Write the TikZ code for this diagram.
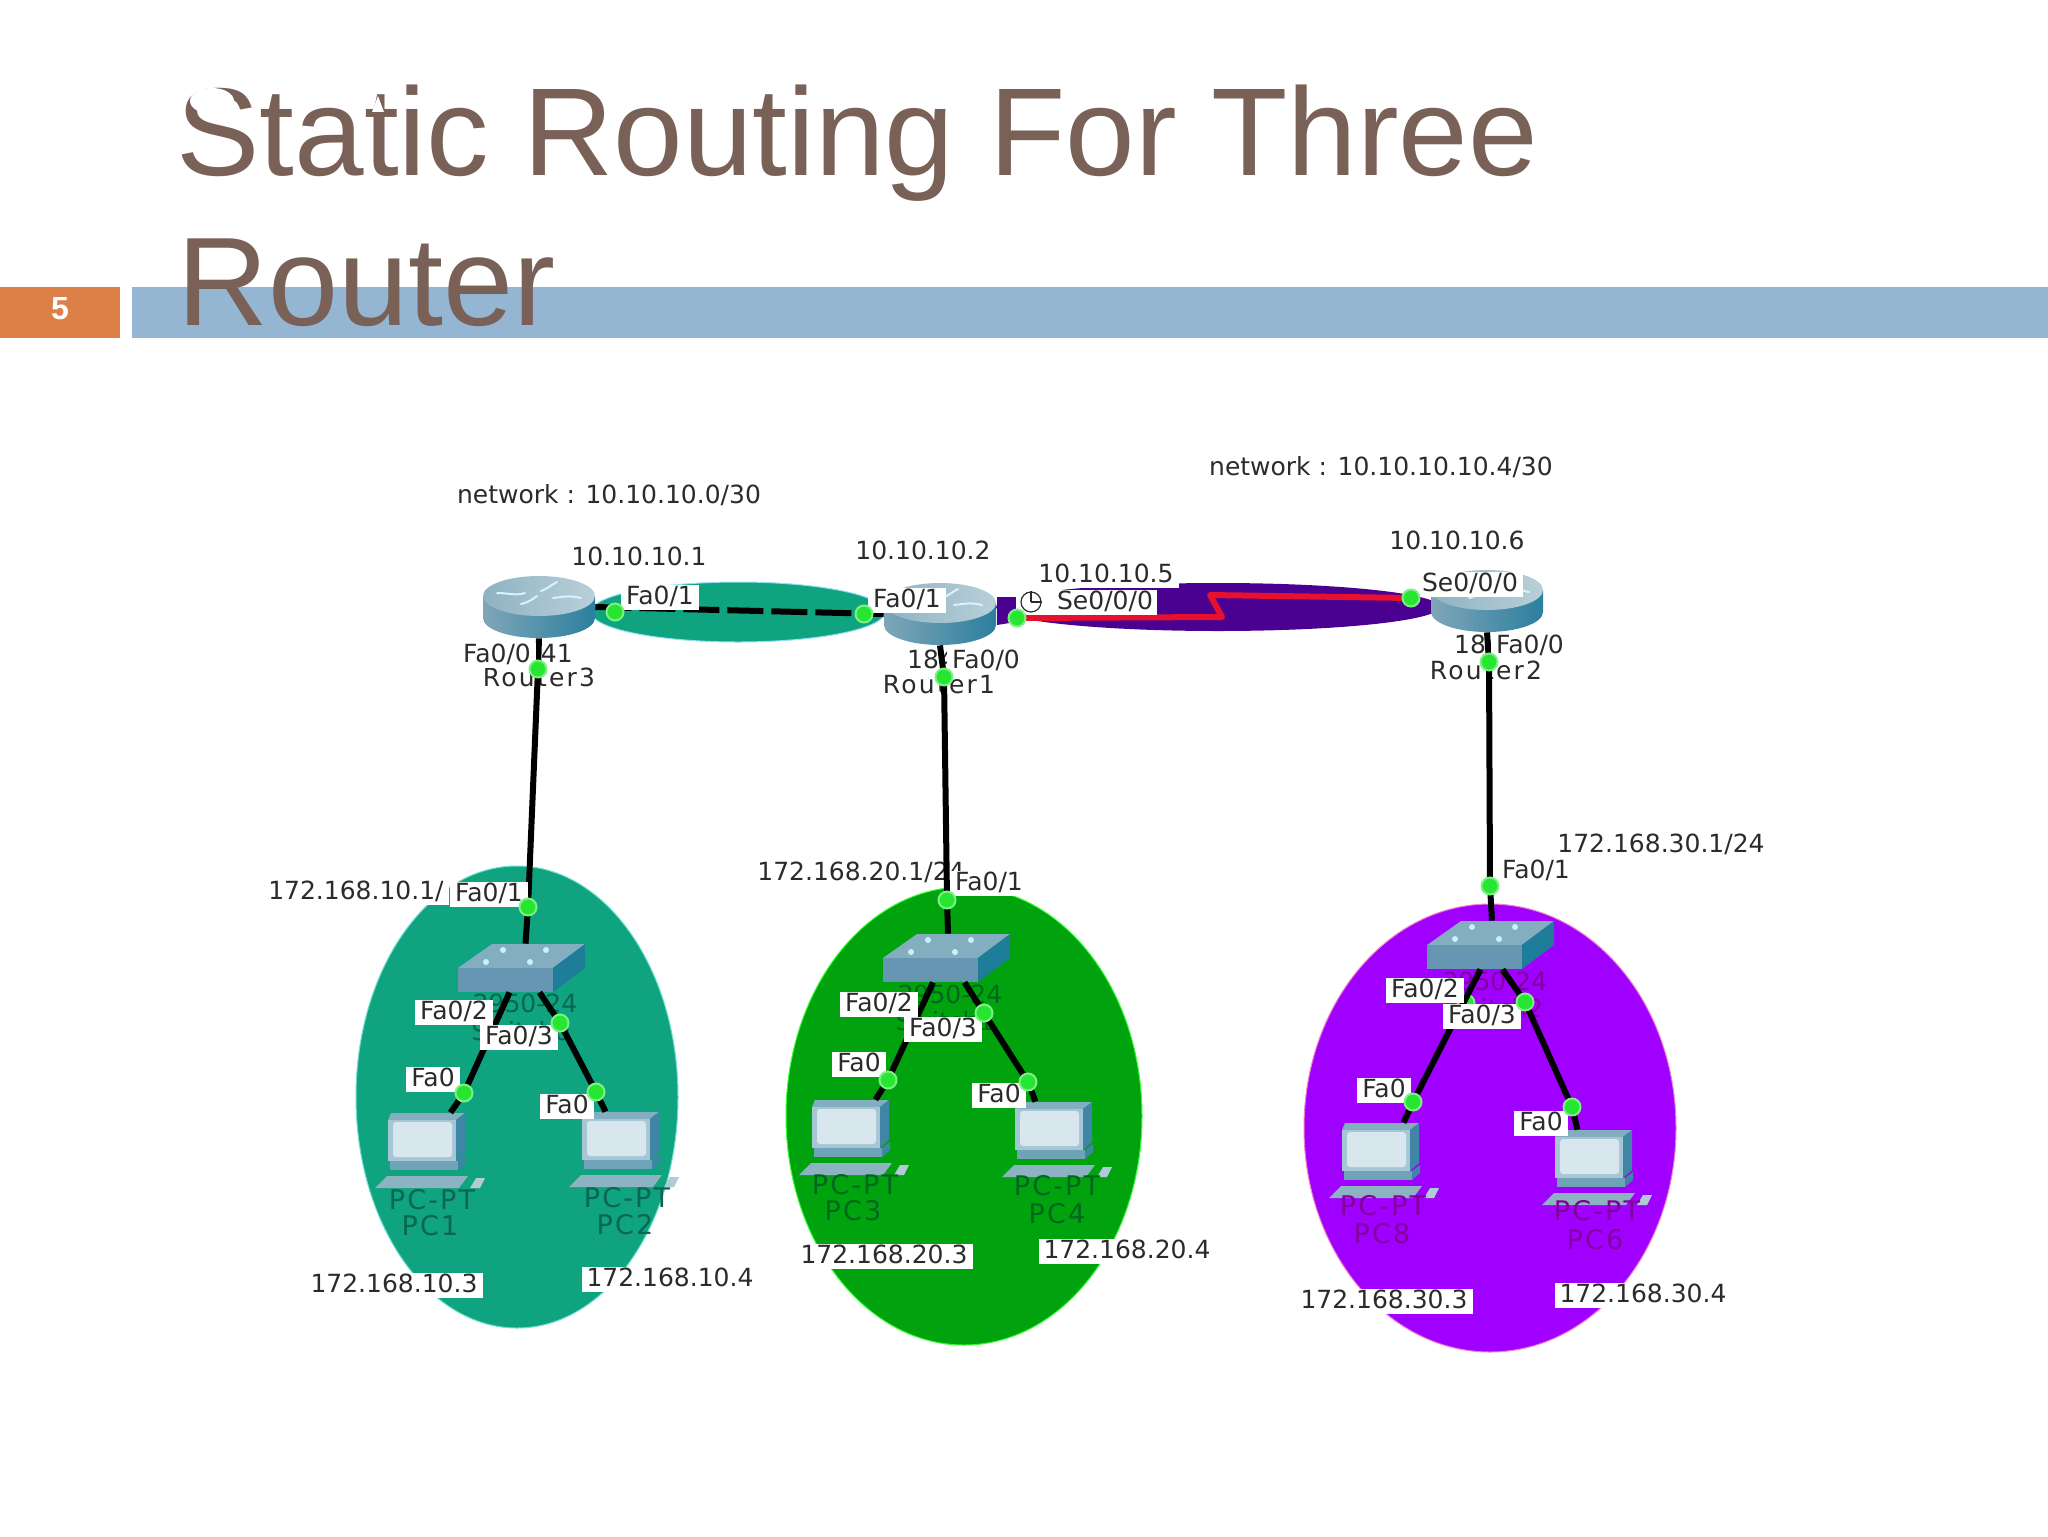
\documentclass[tikz,border=0pt]{standalone}
\usepackage{fontspec}
\setmainfont{DejaVu Sans}
\newfontfamily\titlefont{Liberation Sans}
\definecolor{titlebrown}{HTML}{7A6158}
\definecolor{barblue}{HTML}{94B6D2}
\definecolor{barorange}{HTML}{DD8047}
\definecolor{tealfill}{HTML}{0FA37F}
\definecolor{greenfill}{HTML}{00A30E}
\definecolor{purplefill}{HTML}{A000FF}
\definecolor{linkpurple}{HTML}{4A0090}
\definecolor{linkred}{HTML}{E8102F}
\definecolor{portgreen}{HTML}{26E632}
\definecolor{labelink}{HTML}{2B2B2B}
\definecolor{tealink}{HTML}{0A6650}
\definecolor{greenink}{HTML}{00681C}
\definecolor{purpleink}{HTML}{82009C}
\definecolor{rleft}{HTML}{7FA6B8}
\definecolor{rmid}{HTML}{D8E8EE}
\definecolor{rright}{HTML}{2B7F9E}
\definecolor{rtopl}{HTML}{8FB2C2}
\definecolor{rtopr}{HTML}{B9D0D9}
\definecolor{swtop}{HTML}{82AEBF}
\definecolor{swfront}{HTML}{6696B2}
\definecolor{swside}{HTML}{1E7E9A}
\definecolor{pcframe}{HTML}{A6C6D6}
\definecolor{pcside}{HTML}{3F86A6}
\definecolor{pcscreen}{HTML}{D8E6EE}
\definecolor{pcbase}{HTML}{6FA3B8}
\definecolor{pckeys}{HTML}{8DB3C3}
\definecolor{pcmouse}{HTML}{AFCBD6}
\tikzset{
  lbl/.style={font=\fontsize{12.5}{14}\selectfont,text=labelink,inner sep=0pt,text height=9pt,text depth=2pt},
  wlbl/.style={lbl,fill=white,inner xsep=2.5pt,inner ysep=.75pt},
  rlbl/.style={lbl,font=\fontsize{12.5}{14}\selectfont\addfontfeature{LetterSpace=9}},
  devlbl/.style={lbl,font=\fontsize{13.5}{15}\selectfont\addfontfeature{LetterSpace=8}},
  onteal/.style={devlbl,text=tealink},
  ongreen/.style={devlbl,text=greenink},
  onpurple/.style={devlbl,text=purpleink},
  port/.style={circle,fill=portgreen,draw=portgreen!60,line width=1pt,inner sep=0pt,minimum size=8.5pt},
  cable/.style={draw=black,line width=3pt},
  devbox/.style={inner sep=0pt,rectangle},
}
\newcommand{\routerdev}[3]{%
 \begin{scope}[shift={(#2,#3)}]
  \path[left color=rleft,middle color=rmid,right color=rright]
    (-56,-11) -- (-56,11) .. controls (-56,22) and (-31,31) .. (0,31) .. controls (31,31) and (56,22) .. (56,11) -- (56,-11) -- cycle;
  \path[left color=rtopl,right color=rtopr] (-56,-11) .. controls (-56,-22) and (-31,-31) .. (0,-31) .. controls (31,-31) and (56,-22) .. (56,-11) .. controls (56,0) and (31,9) .. (0,9) .. controls (-31,9) and (-56,0) .. (-56,-11) -- cycle;
  \draw[white!85!cyan,line width=1pt,line cap=round] (-42,-14) .. controls (-30,-14) and (-24,-11) .. (-14,-14) (42,-9) .. controls (30,-12) and (24,-10) .. (14,-9) (-18,-3) .. controls (-10,-5) and (-6,-8) .. (-2,-11) (18,-25) .. controls (12,-22) and (8,-18) .. (2,-16);
  \node[devbox,minimum width=56pt,minimum height=31pt] (#1) at (0,0) {};
 \end{scope}}
\newcommand{\switchdev}[3]{%
 \begin{scope}[shift={(#2,#3)}]
  \fill[swtop] (0,0) -- (34,-24) -- (127,-24) -- (95,0) -- cycle;
  \fill[swfront] (0,0) rectangle (95,24);
  \fill[swside] (95,0) -- (127,-24) -- (127,0) -- (95,24) -- cycle;
  \fill[white!80!cyan] (28,-6) circle[radius=1.5pt] (45,-18) circle[radius=1.5pt] (88,-18) circle[radius=1.5pt] (72,-6) circle[radius=1.5pt];
  \node[devbox,minimum width=63.5pt,minimum height=24pt] (#1) at (63.5,0) {};
 \end{scope}}
\newcommand{\pcdev}[3]{%
 \begin{scope}[shift={(#2,#3)}]
  \fill[swtop] (3,0) -- (77,0) -- (68,7) -- (0,7) -- cycle;
  \fill[pcframe] (0,7) rectangle (68,48);
  \fill[pcside] (68,7) -- (77,0) -- (77,40) -- (68,48) -- cycle;
  \fill[pcscreen,rounded corners=1.5pt] (5,9) rectangle (64,44);
  \fill[pcbase] (2,48) rectangle (70,57);
  \fill[pcside] (70,48) -- (78,42) -- (78,50) -- (70,57) -- cycle;
  \fill[pckeys] (-13,75) -- (71,75) -- (80,63) -- (-1,63) -- cycle;
  \fill[pcmouse] (82,75) -- (92,75) -- (97,65) -- (88,65) -- cycle;
  \node[devbox,minimum width=38.5pt,minimum height=24pt] (#1) at (38.5,24) {};
 \end{scope}}
\begin{document}
\begin{tikzpicture}[x=0.5pt,y=-0.5pt]
\useasboundingbox (0,0) rectangle (2048,1536);
\fill[white] (0,0) rectangle (2048,1536);
% header
\fill[barorange] (0,287) rectangle (120,338);
\fill[barblue] (132,287) rectangle (2048,338);
\node[inner sep=0pt,text=white,font=\titlefont\bfseries\fontsize{16}{18}\selectfont] (pagenum) at (60,309) {5};
\node[inner sep=0pt,anchor=base west,text=titlebrown,font=\titlefont\fontsize{62.5}{70}\selectfont] (title1) at (176,175) {Static Routing For Three};
\node[inner sep=0pt,anchor=base west,text=titlebrown,font=\titlefont\fontsize{63}{70}\selectfont] (title2) at (177,325) {Router};
\fill[white] (212,101) ellipse [x radius=11pt,y radius=6.5pt];
\fill[white] (378,96) -- (384,112) -- (372,112) -- cycle;
% coloured areas
\fill[tealfill,draw=tealfill!60!cyan!60!white,line width=.5pt] (517,1097) ellipse [x radius=80.5pt,y radius=115.5pt];
\fill[greenfill,draw=green!80!white,line width=.5pt] (964,1116) ellipse [x radius=89pt,y radius=114.5pt];
\fill[purplefill,draw=magenta!50!white,line width=.5pt] (1490,1128) ellipse [x radius=93pt,y radius=112pt];
\fill[tealfill,draw=cyan!40!white,line width=.5pt] (738,612) ellipse [x radius=73.5pt,y radius=15pt];
\fill[linkpurple] (1218,607) ellipse [x radius=111pt,y radius=12pt];
\fill[linkpurple] (997,597) -- (1022,597) -- (1022,621) -- (997,625) -- cycle;
% routers
\routerdev{r3}{539}{607}
\routerdev{r1}{940}{614}
\routerdev{r2}{1487}{601}
% switches, PCs
\switchdev{sw1}{458}{968}
\switchdev{sw2}{883}{958}
\switchdev{sw3}{1427}{945}
\pcdev{pc1}{388}{1113}
\pcdev{pc2}{582}{1112}
\pcdev{pc3}{812}{1100}
\pcdev{pc4}{1015}{1102}
\pcdev{pc8}{1342}{1123}
\pcdev{pc6}{1555}{1130}
% device captions
\node[lbl] (m3) at (541,655) {1841};
\node[lbl] (m1) at (939,661) {1841};
\node[lbl] (m2) at (1486,646) {1841};
\node[rlbl] (n3) at (539,679) {Router3};
\node[rlbl] (n1) at (939,686) {Router1};
\node[rlbl] (n2) at (1486,672) {Router2};
\node[lbl,text=tealink] (t1) at (525,1005) {2950-24};
\node[lbl,text=tealink] (s1) at (521,1033) {Switch0};
\node[lbl,text=greenink] (t2) at (950,996) {2950-24};
\node[lbl,text=greenink] (s2) at (945,1023) {Switch1};
\node[lbl,text=purpleink] (t3) at (1495,983) {2950-24};
\node[lbl,text=purpleink] (s3) at (1494,1010) {Switch2};
\node[onteal] (k1) at (432,1202) {PC-PT};
\node[onteal] (l1) at (430,1228) {PC1};
\node[onteal] (k2) at (627,1200) {PC-PT};
\node[onteal] (l2) at (625,1227) {PC2};
\node[ongreen] (k3) at (855,1187) {PC-PT};
\node[ongreen] (l3) at (853,1213) {PC3};
\node[ongreen] (k4) at (1057,1188) {PC-PT};
\node[ongreen] (l4) at (1057,1216) {PC4};
\node[onpurple] (k8) at (1383,1208) {PC-PT};
\node[onpurple] (l8) at (1382,1236) {PC8};
\node[onpurple] (k6) at (1597,1213) {PC-PT};
\node[onpurple] (l6) at (1595,1242) {PC6};
\node[lbl] (ipsw2) at (861,873) {172.168.20.1/24};
% port positions
\coordinate (a3) at (538,669);
\coordinate (a1) at (944,677);
\coordinate (a2) at (1489,662);
\coordinate (b1) at (528,907);
\coordinate (b2) at (947,900);
\coordinate (b3) at (1490,886);
\coordinate (z1) at (1222,617);
\coordinate (z2) at (1210,595);
\coordinate (f1) at (1017,618);
\coordinate (f2) at (1411,598);
% connectors
\draw[cable] (r3.south) -- (a3) -- (b1) -- ([xshift=2pt]sw1.north);
\draw[cable] (r1.south) -- (a1) -- (b2) -- ([xshift=.75pt]sw2.north);
\draw[cable] (r2.south) -- (a2) -- (b3) -- ([xshift=.75pt]sw3.north);
\draw[cable,dash pattern=on 18pt off 4pt] (r3.east) -- (r1.west);
\draw[linkred,line width=3pt,line join=round] (f1) -- (z1) -- (z2) -- (f2);
\node[port] (h3) at (1466,1003) {};
\draw[cable] ([xshift=-6pt]sw1.south) -- (464,1093) -- ([xshift=12pt]pc1.north);
\draw[cable] ([xshift=9pt]sw1.south) -- (560,1023) -- (596,1092) -- ([xshift=-7.5pt]pc2.north);
\draw[cable] ([xshift=-6.75pt]sw2.south) -- (888,1080) -- ([xshift=12.5pt]pc3.north);
\draw[cable] ([xshift=9pt]sw2.south) -- (984,1013) -- (1028,1082) -- ([xshift=-9pt]pc4.north);
\draw[cable] ([xshift=-5pt]sw3.south) -- (1413,1102) -- ([xshift=11.5pt]pc8.north);
\draw[cable] ([xshift=6pt]sw3.south) -- (1525,1002) -- (1572,1107) -- ([xshift=-8pt]pc6.north);
% free labels
\node[lbl] (net1) at (609,496) {network : 10.10.10.0/30};
\node[lbl] (net2) at (1381,468) {network : 10.10.10.10.4/30};
\node[lbl] (ip1) at (639,558) {10.10.10.1};
\node[lbl] (ip2) at (923,552) {10.10.10.2};
\node[wlbl] (ip5) at (1106,575) {10.10.10.5};
\node[lbl] (ip6) at (1457,542) {10.10.10.6};
\node[lbl] (ipsw3) at (1661,845) {172.168.30.1/24};
% white port labels
\node[wlbl] (pa) at (660,597) {Fa0/1};
\node[wlbl] (pb) at (907,600) {Fa0/1};
\fill[white] (1016,590) rectangle (1157,615);
\node[lbl] (pc0) at (1105,602) {Se0/0/0};
\node[wlbl] (pd) at (1470,584) {Se0/0/0};
\node[circle,draw=labelink,fill=white,line width=.6pt,inner sep=0pt,minimum size=10pt] (clock) at (1031,602) {};
\draw[labelink,line width=.6pt] (clock.center) -- (clock.north) (clock.center) -- (clock.east);
\node[wlbl] (pe) at (497,655) {Fa0/0};
\node[wlbl] (pf) at (986,661) {Fa0/0};
\node[wlbl] (pg) at (1530,646) {Fa0/0};
\node[wlbl] (ipsw1) at (356,892) {172.168.10.1/};
\node[wlbl] (ph) at (489,894) {Fa0/1};
\node[wlbl] (pi) at (989,883) {Fa0/1};
\node[wlbl] (pj) at (1536,871) {Fa0/1};
\node[wlbl] (q1) at (454,1012) {Fa0/2};
\node[wlbl] (q2) at (519,1037) {Fa0/3};
\node[wlbl] (q3) at (433,1079) {Fa0};
\node[wlbl] (q4) at (567,1106) {Fa0};
\node[wlbl] (q5) at (879,1004) {Fa0/2};
\node[wlbl] (q6) at (943,1029) {Fa0/3};
\node[wlbl] (q7) at (859,1064) {Fa0};
\node[wlbl] (q8) at (999,1095) {Fa0};
\node[wlbl] (q9) at (1425,990) {Fa0/2};
\node[wlbl] (q10) at (1482,1016) {Fa0/3};
\node[wlbl] (q11) at (1384,1090) {Fa0};
\node[wlbl] (q12) at (1541,1123) {Fa0};
\node[wlbl] (i1) at (394,1285) {172.168.10.3};
\node[wlbl] (i2) at (670,1279) {172.168.10.4};
\node[wlbl] (i3) at (884,1256) {172.168.20.3};
\node[wlbl] (i4) at (1127,1251) {172.168.20.4};
\node[wlbl] (i5) at (1384,1301) {172.168.30.3};
\node[wlbl] (i6) at (1643,1295) {172.168.30.4};
% port dots
\foreach \n/\p in {d1/{538,669},d2/{944,677},d3/{1489,662},d4/{528,907},d5/{947,900},d6/{1490,886},d7/{615,612},d8/{864,614},d9/{1017,618},d10/{1411,598},d11/{464,1093},d12/{560,1023},d13/{596,1092},d14/{888,1080},d15/{984,1013},d16/{1028,1082},d17/{1413,1102},d18/{1525,1002},d19/{1572,1107}}
  \node[port] (\n) at (\p) {};
\end{tikzpicture}
\end{document}
